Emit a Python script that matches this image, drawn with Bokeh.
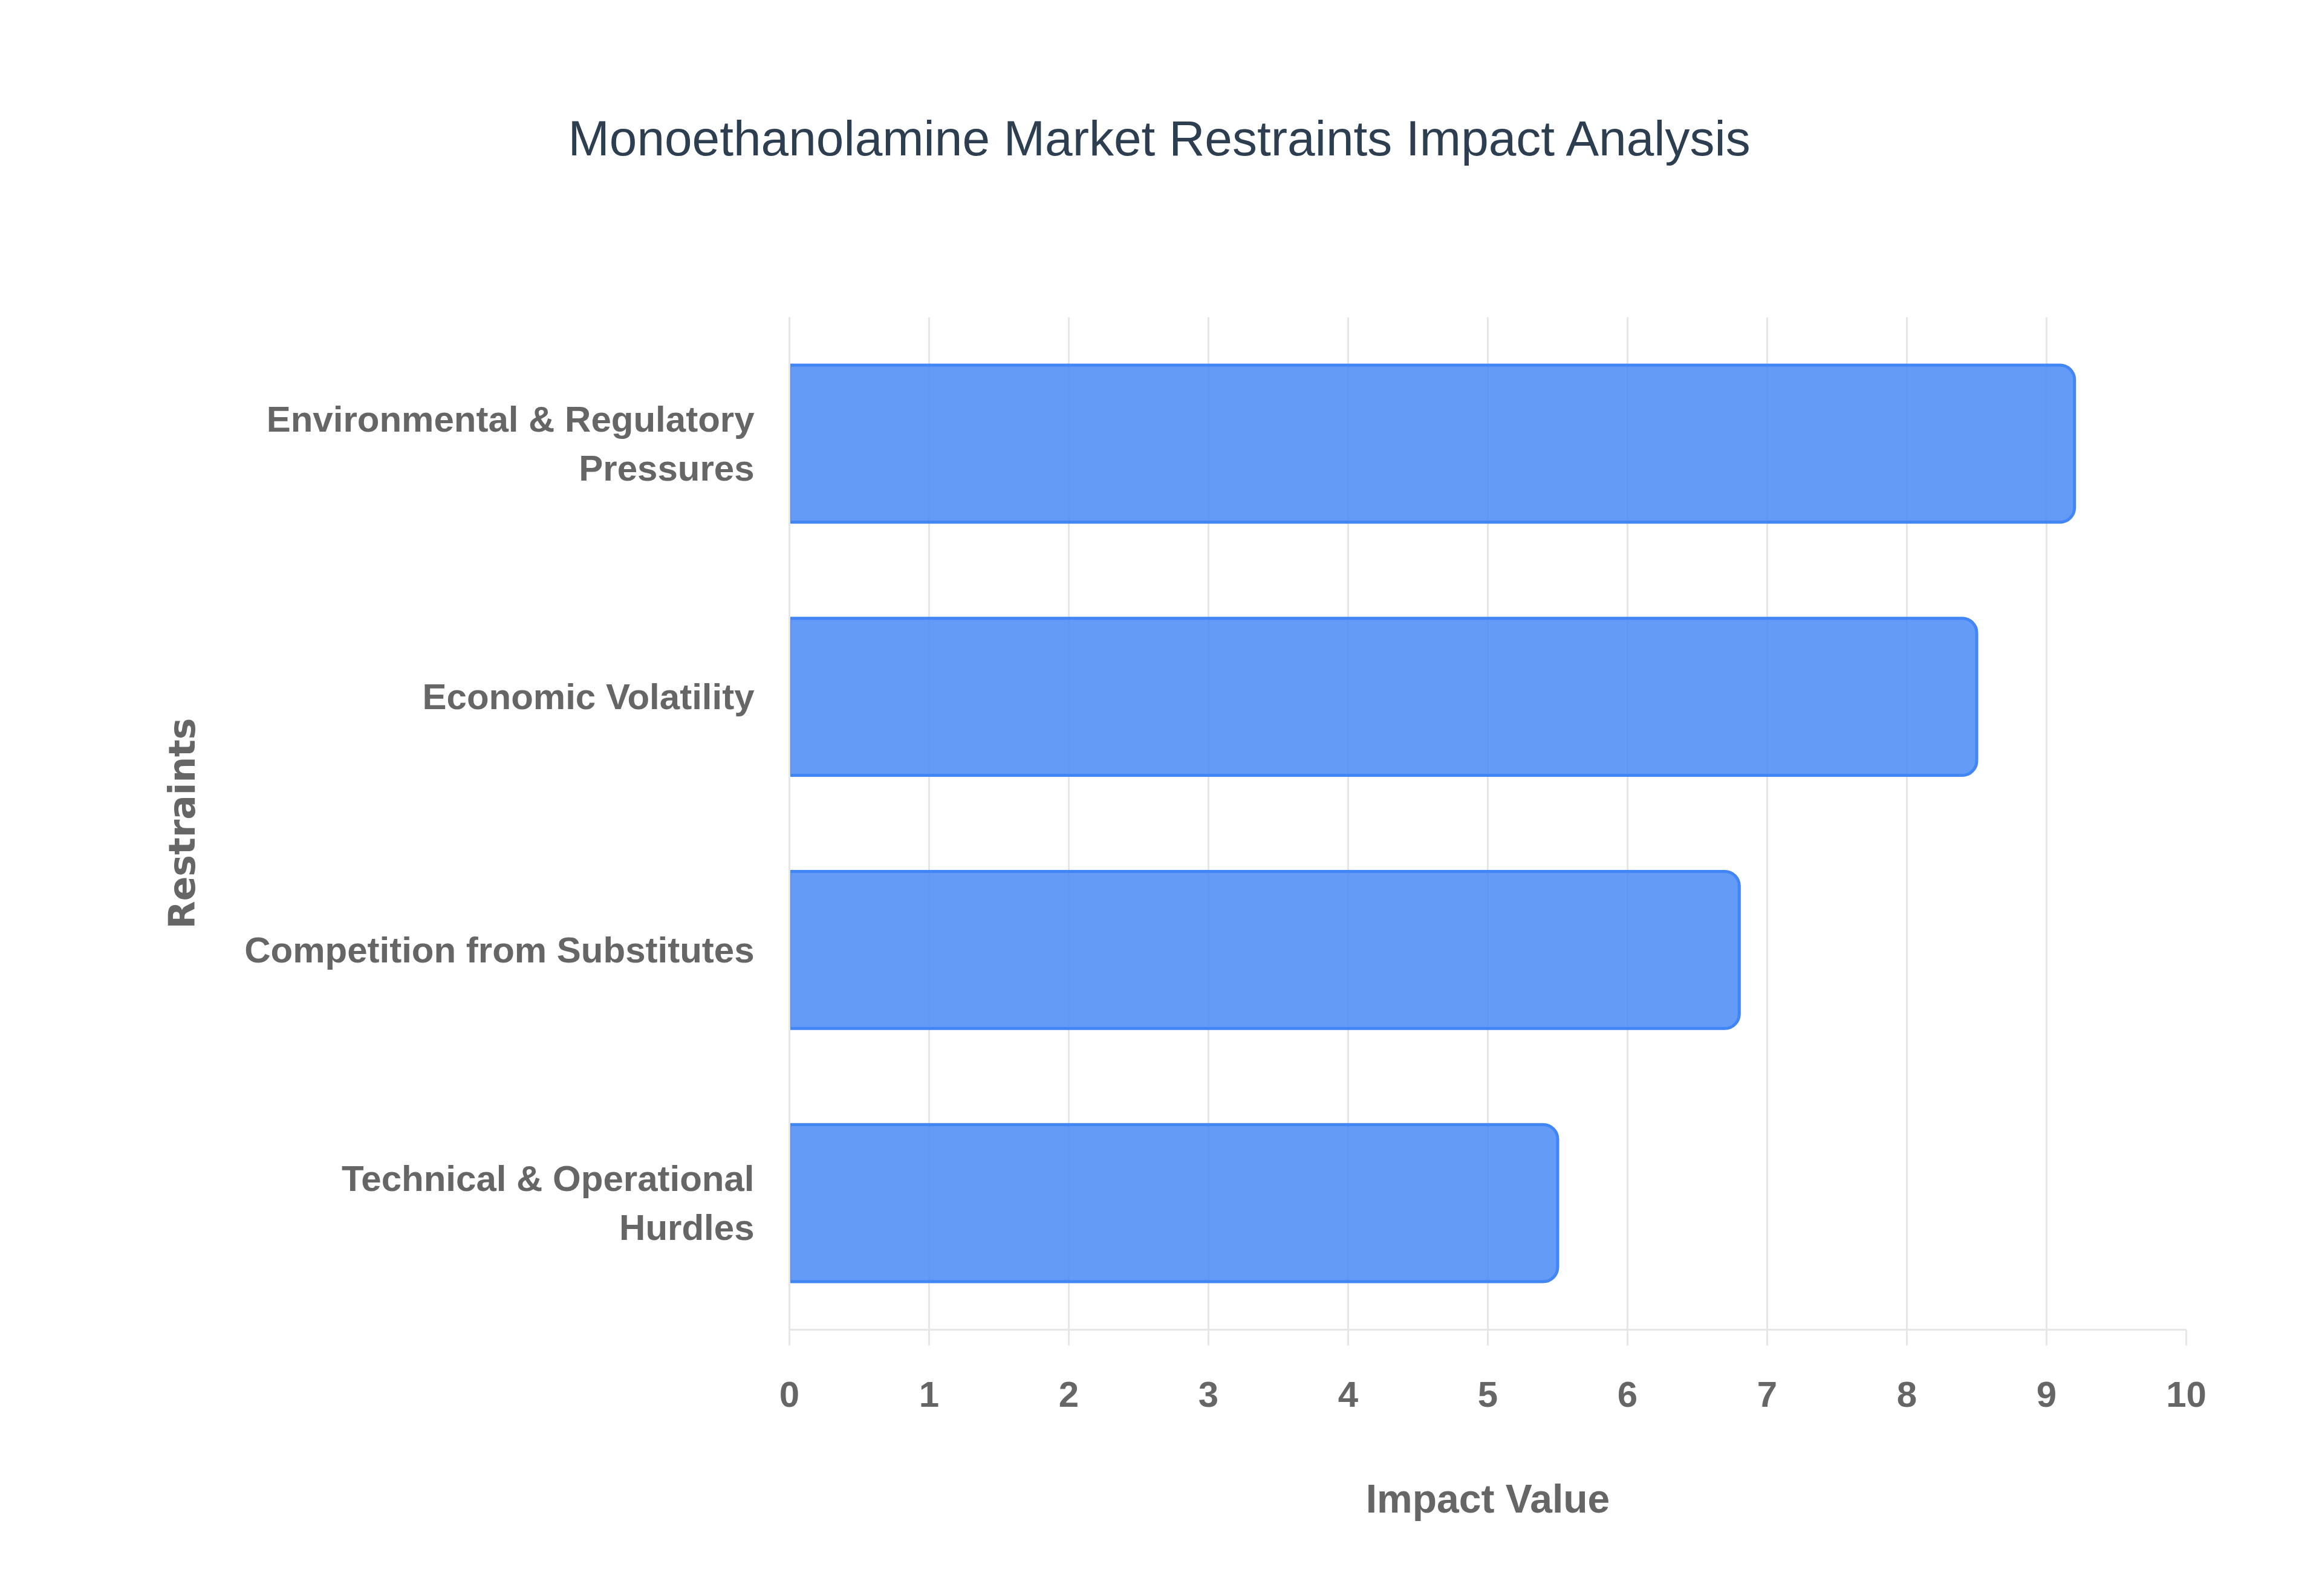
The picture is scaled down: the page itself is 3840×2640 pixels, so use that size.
from bokeh.plotting import figure
from bokeh.models import Range1d, FixedTicker, ColumnDataSource, Title
from bokeh.embed import file_html
from bokeh.resources import INLINE

# data (top to bottom)
restraints = [
    "Environmental & Regulatory\nPressures",
    "Economic Volatility",
    "Competition from Substitutes",
    "Technical & Operational\nHurdles",
]
impact = [9.2, 8.5, 6.8, 5.5]
x_ticks = [0, 1, 2, 3, 4, 5, 6, 7, 8, 9, 10]

TEXT = "#666666"
GRID = "#e6e6e6"
BLUE = "#4285F4"

# first category at the top
n = len(restraints)
ypos = [n - 1 - i for i in range(n)]
src = ColumnDataSource(data=dict(y=ypos, impact=impact))

p = figure(width=3824, height=2624, output_backend="svg", toolbar_location=None,
           title=None,
           y_range=Range1d(-0.5, n - 0.5), x_range=Range1d(0, 10),
           min_border_left=1305, min_border_right=209,
           min_border_top=524, min_border_bottom=425)

p.hbar(y="y", left=0, right="impact", height=0.62, source=src,
       fill_color=BLUE, fill_alpha=0.82, line_color=BLUE, line_width=5,
       border_radius=(0, 24, 24, 0))

# empty spacer between plot area and title, then the title itself
p.add_layout(Title(text=" ", text_font_size="1px", standoff=248), "above")
p.add_layout(Title(text="Monoethanolamine Market Restraints Impact Analysis",
                   align="left", offset=-366, standoff=0,
                   text_font="Liberation Sans", text_font_size="82px",
                   text_font_style="normal", text_color="#2c3e50"), "above")

p.outline_line_color = None
p.ygrid.grid_line_color = None
p.xgrid.grid_line_color = GRID
p.xgrid.grid_line_width = 3

xa = p.xaxis[0]
xa.ticker = FixedTicker(ticks=x_ticks)
xa.axis_label = "Impact Value"
xa.axis_label_text_font = "Liberation Sans"
xa.axis_label_text_font_size = "66px"
xa.axis_label_text_font_style = "bold"
xa.axis_label_text_color = TEXT
xa.axis_label_standoff = 112
xa.major_label_text_font = "Liberation Sans"
xa.major_label_text_font_size = "60px"
xa.major_label_text_font_style = "bold"
xa.major_label_text_color = TEXT
xa.major_label_standoff = 60
xa.major_tick_out = 26
xa.major_tick_in = 0
xa.major_tick_line_color = GRID
xa.major_tick_line_width = 3
xa.minor_tick_line_color = None
xa.axis_line_color = GRID
xa.axis_line_width = 3

ya = p.yaxis[0]
ya.ticker = FixedTicker(ticks=ypos)
ya.major_label_overrides = {y: lab for y, lab in zip(ypos, restraints)}
ya.axis_label = "Restraints"
ya.axis_label_text_font = "DejaVu Sans"
ya.axis_label_text_font_size = "60px"
ya.axis_label_text_font_style = "bold"
ya.axis_label_text_color = TEXT
ya.axis_label_standoff = 65
ya.major_label_text_font = "Liberation Sans"
ya.major_label_text_font_size = "60px"
ya.major_label_text_font_style = "bold"
ya.major_label_text_color = TEXT
ya.major_label_standoff = 58
ya.major_tick_out = 0
ya.major_tick_in = 0
ya.minor_tick_line_color = None
ya.axis_line_color = GRID
ya.axis_line_width = 3

open("out.html", "w").write(file_html(p, INLINE))
